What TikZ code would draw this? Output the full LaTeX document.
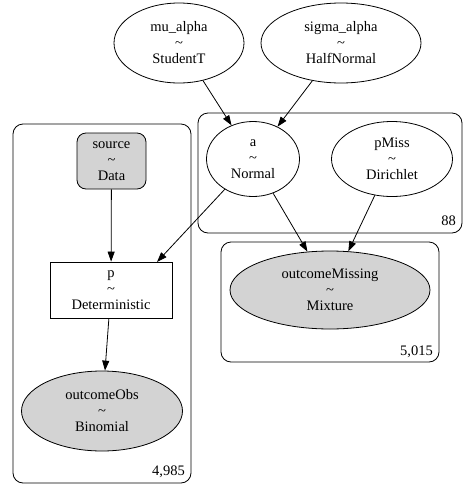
\documentclass[tikz,border=0pt]{standalone}
\usepackage{fontspec}
\setmainfont{Liberation Serif}
\usetikzlibrary{shapes.geometric,arrows.meta}
\definecolor{obsgray}{RGB}{211,211,211}
\definecolor{edge}{RGB}{30,30,30}
\begin{document}
\begin{tikzpicture}[x=1pt,y=-1pt,
  every node/.style={font=\fontsize{14.5}{16}\selectfont, align=center, inner sep=0pt},
  rv/.style={draw, ellipse, line width=0.8pt},
  obs/.style={rv, fill=obsgray},
  plate/.style={draw, rounded corners=10pt, line width=0.8pt},
  arr/.style={-{Triangle[length=10pt,width=7pt]}, line width=0.8pt},
  lbl/.style={anchor=base east}]
\useasboundingbox (0,0) rectangle (474,496);
% plates
\draw[plate] (13,124) rectangle (191,483);
\draw[plate] (198,113) rectangle (462,233);
\draw[plate] (221,242) rectangle (439,362);
\node[lbl] (n88) at (456,225) {88};
\node[lbl] (n5015) at (433,355) {5,015};
\node[lbl] (n4985) at (185,475) {4,985};
% nodes
\node[rv, minimum width=130pt, minimum height=80pt] (mu) at (179,43) {mu\_alpha\\\textasciitilde\\StudentT};
\node[rv, minimum width=160pt, minimum height=80pt] (sigma) at (341,43) {sigma\_alpha\\\textasciitilde\\HalfNormal};
\node[rv, minimum width=93pt, minimum height=75pt] (a) at (253,159) {a\\\textasciitilde\\Normal};
\node[rv, minimum width=121pt, minimum height=75pt] (pmiss) at (392,159) {pMiss\\\textasciitilde\\Dirichlet};
\node[draw, fill=obsgray, rounded corners=9pt, line width=0.8pt, minimum width=69pt, minimum height=56pt] (source) at (111.5,161) {source\\\textasciitilde\\Data};
\node[draw, line width=0.8pt, minimum width=122pt, minimum height=56pt] (p) at (111,290) {p\\\textasciitilde\\Deterministic};
\node[obs, minimum width=200pt, minimum height=78pt] (om) at (330,290) {outcomeMissing\\\textasciitilde\\Mixture};
\node[obs, minimum width=161pt, minimum height=80pt] (oo) at (102,411) {outcomeObs\\\textasciitilde\\Binomial};
% edges
\draw[arr] (mu) -- (a);
\draw[arr] (sigma) -- (a);
\draw[arr] (a) -- (157,262) coordinate (pend);
\draw[arr] (source) -- (p);
\draw[arr] (p) -- (oo);
\draw[arr] (a) -- (om);
\draw[arr] (pmiss) -- (om);
\end{tikzpicture}
\end{document}
